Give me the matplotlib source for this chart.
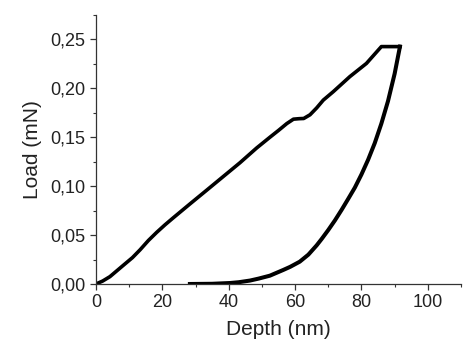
import numpy as np
import matplotlib.pyplot as plt
from matplotlib.ticker import MultipleLocator

# loading branch (depth nm, load mN)
load_depth = [0, 2.0, 4.2, 8.2, 11.0, 13.3, 15.8, 18.3, 20.8, 23.3, 28.3, 33.4,
              38.4, 43.4, 48.4, 52.4, 55.0, 57.5, 59.5, 61.2, 62.6, 64.5, 66.5,
              68.5, 71.5, 76.5, 81.5, 86.0, 91.6]
load_force = [0, 0.003, 0.0075, 0.019, 0.027, 0.035, 0.0445, 0.0528, 0.0605,
              0.0677, 0.0818, 0.096, 0.110, 0.124, 0.139, 0.150, 0.157, 0.164,
              0.1685, 0.169, 0.1692, 0.173, 0.180, 0.188, 0.1966, 0.212, 0.2255,
              0.2427, 0.2427]

# unloading branch
unload_depth = [91.6, 90.0, 88.0, 86.0, 84.0, 82.0, 80.0, 78.0, 76.0, 74.0,
                72.0, 70.0, 68.0, 66.5, 64.0, 61.4, 58.5, 56.4, 52.4, 49.0,
                46.4, 43.0, 40.4, 35.0, 28.3]
unload_force = [0.2427, 0.215, 0.187, 0.164, 0.144, 0.127, 0.112, 0.0985,
                0.087, 0.0757, 0.065, 0.0552, 0.046, 0.0395, 0.030, 0.0228,
                0.0175, 0.0143, 0.0085, 0.0055, 0.0035, 0.0018, 0.001, 0.0002,
                0.0]

yticks = [0.0, 0.05, 0.10, 0.15, 0.20, 0.25]
ytick_labels = ['0,00', '0,05', '0,10', '0,15', '0,20', '0,25']
xticks = [0, 20, 40, 60, 80, 100]

plt.rcParams['font.family'] = ['Liberation Sans', 'DejaVu Sans']

fig = plt.figure(figsize=(4.74, 3.53), dpi=100)
ax = fig.add_axes([0.2025, 0.1955, 0.7701, 0.762])

ax.plot(load_depth, load_force, color='black', lw=2.6, solid_joinstyle='round')
ax.plot(unload_depth, unload_force, color='black', lw=2.9, solid_joinstyle='round')

ax.set_xlim(0, 110)
ax.set_ylim(0, 0.275)
ax.set_xticks(xticks)
ax.set_yticks(yticks)
ax.set_yticklabels(ytick_labels)
ax.xaxis.set_minor_locator(MultipleLocator(10))
ax.yaxis.set_minor_locator(MultipleLocator(0.025))

for s in ['top', 'right']:
    ax.spines[s].set_visible(False)
for s in ['left', 'bottom']:
    ax.spines[s].set_color('#333333')
    ax.spines[s].set_linewidth(0.9)

ax.tick_params(which='major', direction='out', length=4, width=0.9,
               color='#333333', labelsize=13, labelcolor='#222222')
ax.tick_params(which='minor', direction='out', length=2.5, width=0.8, color='#333333')

ax.set_xlabel('Depth (nm)', fontsize=15, color='#222222', labelpad=6)
ax.set_ylabel('Load (mN)', fontsize=15, color='#222222', labelpad=6)

fig.savefig('out.png', dpi=100)
